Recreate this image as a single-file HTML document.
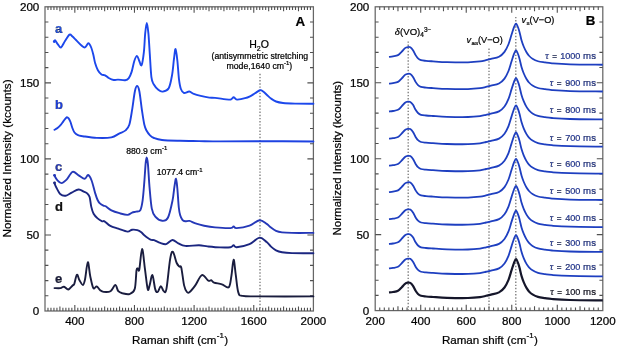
<!DOCTYPE html><html><head><meta charset="utf-8"><style>html,body{margin:0;padding:0;background:#fff;width:617px;height:348px;overflow:hidden}svg{display:block;will-change:transform}text{stroke:#000;stroke-width:0.22px}</style></head><body><svg width="617" height="348" viewBox="0 0 617 348"><rect width="617" height="348" fill="#fff"/>
<rect x="45.00" y="6.80" width="268.40" height="304.20" fill="none" stroke="#666666" stroke-width="1.25"/>
<path d="M45.00,295.79h3.40 M313.40,295.79h-3.40 M45.00,280.58h3.40 M313.40,280.58h-3.40 M45.00,265.37h3.40 M313.40,265.37h-3.40 M45.00,250.16h3.40 M313.40,250.16h-3.40 M45.00,234.95h6.00 M313.40,234.95h-6.00 M45.00,219.74h3.40 M313.40,219.74h-3.40 M45.00,204.53h3.40 M313.40,204.53h-3.40 M45.00,189.32h3.40 M313.40,189.32h-3.40 M45.00,174.11h3.40 M313.40,174.11h-3.40 M45.00,158.90h6.00 M313.40,158.90h-6.00 M45.00,143.69h3.40 M313.40,143.69h-3.40 M45.00,128.48h3.40 M313.40,128.48h-3.40 M45.00,113.27h3.40 M313.40,113.27h-3.40 M45.00,98.06h3.40 M313.40,98.06h-3.40 M45.00,82.85h6.00 M313.40,82.85h-6.00 M45.00,67.64h3.40 M313.40,67.64h-3.40 M45.00,52.43h3.40 M313.40,52.43h-3.40 M45.00,37.22h3.40 M313.40,37.22h-3.40 M45.00,22.01h3.40 M313.40,22.01h-3.40 M47.98,311.00v-3.20 M47.98,6.80v3.20 M50.96,311.00v-3.20 M50.96,6.80v3.20 M53.95,311.00v-3.20 M53.95,6.80v3.20 M56.93,311.00v-3.20 M56.93,6.80v3.20 M59.91,311.00v-4.40 M59.91,6.80v4.40 M62.89,311.00v-3.20 M62.89,6.80v3.20 M65.88,311.00v-3.20 M65.88,6.80v3.20 M68.86,311.00v-3.20 M68.86,6.80v3.20 M71.84,311.00v-3.20 M71.84,6.80v3.20 M74.82,311.00v-5.90 M74.82,6.80v5.90 M77.80,311.00v-3.20 M77.80,6.80v3.20 M80.79,311.00v-3.20 M80.79,6.80v3.20 M83.77,311.00v-3.20 M83.77,6.80v3.20 M86.75,311.00v-3.20 M86.75,6.80v3.20 M89.73,311.00v-4.40 M89.73,6.80v4.40 M92.72,311.00v-3.20 M92.72,6.80v3.20 M95.70,311.00v-3.20 M95.70,6.80v3.20 M98.68,311.00v-3.20 M98.68,6.80v3.20 M101.66,311.00v-3.20 M101.66,6.80v3.20 M104.64,311.00v-4.40 M104.64,6.80v4.40 M107.63,311.00v-3.20 M107.63,6.80v3.20 M110.61,311.00v-3.20 M110.61,6.80v3.20 M113.59,311.00v-3.20 M113.59,6.80v3.20 M116.57,311.00v-3.20 M116.57,6.80v3.20 M119.56,311.00v-4.40 M119.56,6.80v4.40 M122.54,311.00v-3.20 M122.54,6.80v3.20 M125.52,311.00v-3.20 M125.52,6.80v3.20 M128.50,311.00v-3.20 M128.50,6.80v3.20 M131.48,311.00v-3.20 M131.48,6.80v3.20 M134.47,311.00v-5.90 M134.47,6.80v5.90 M137.45,311.00v-3.20 M137.45,6.80v3.20 M140.43,311.00v-3.20 M140.43,6.80v3.20 M143.41,311.00v-3.20 M143.41,6.80v3.20 M146.40,311.00v-3.20 M146.40,6.80v3.20 M149.38,311.00v-4.40 M149.38,6.80v4.40 M152.36,311.00v-3.20 M152.36,6.80v3.20 M155.34,311.00v-3.20 M155.34,6.80v3.20 M158.32,311.00v-3.20 M158.32,6.80v3.20 M161.31,311.00v-3.20 M161.31,6.80v3.20 M164.29,311.00v-4.40 M164.29,6.80v4.40 M167.27,311.00v-3.20 M167.27,6.80v3.20 M170.25,311.00v-3.20 M170.25,6.80v3.20 M173.24,311.00v-3.20 M173.24,6.80v3.20 M176.22,311.00v-3.20 M176.22,6.80v3.20 M179.20,311.00v-4.40 M179.20,6.80v4.40 M182.18,311.00v-3.20 M182.18,6.80v3.20 M185.16,311.00v-3.20 M185.16,6.80v3.20 M188.15,311.00v-3.20 M188.15,6.80v3.20 M191.13,311.00v-3.20 M191.13,6.80v3.20 M194.11,311.00v-5.90 M194.11,6.80v5.90 M197.09,311.00v-3.20 M197.09,6.80v3.20 M200.08,311.00v-3.20 M200.08,6.80v3.20 M203.06,311.00v-3.20 M203.06,6.80v3.20 M206.04,311.00v-3.20 M206.04,6.80v3.20 M209.02,311.00v-4.40 M209.02,6.80v4.40 M212.00,311.00v-3.20 M212.00,6.80v3.20 M214.99,311.00v-3.20 M214.99,6.80v3.20 M217.97,311.00v-3.20 M217.97,6.80v3.20 M220.95,311.00v-3.20 M220.95,6.80v3.20 M223.93,311.00v-4.40 M223.93,6.80v4.40 M226.92,311.00v-3.20 M226.92,6.80v3.20 M229.90,311.00v-3.20 M229.90,6.80v3.20 M232.88,311.00v-3.20 M232.88,6.80v3.20 M235.86,311.00v-3.20 M235.86,6.80v3.20 M238.84,311.00v-4.40 M238.84,6.80v4.40 M241.83,311.00v-3.20 M241.83,6.80v3.20 M244.81,311.00v-3.20 M244.81,6.80v3.20 M247.79,311.00v-3.20 M247.79,6.80v3.20 M250.77,311.00v-3.20 M250.77,6.80v3.20 M253.76,311.00v-5.90 M253.76,6.80v5.90 M256.74,311.00v-3.20 M256.74,6.80v3.20 M259.72,311.00v-3.20 M259.72,6.80v3.20 M262.70,311.00v-3.20 M262.70,6.80v3.20 M265.68,311.00v-3.20 M265.68,6.80v3.20 M268.67,311.00v-4.40 M268.67,6.80v4.40 M271.65,311.00v-3.20 M271.65,6.80v3.20 M274.63,311.00v-3.20 M274.63,6.80v3.20 M277.61,311.00v-3.20 M277.61,6.80v3.20 M280.60,311.00v-3.20 M280.60,6.80v3.20 M283.58,311.00v-4.40 M283.58,6.80v4.40 M286.56,311.00v-3.20 M286.56,6.80v3.20 M289.54,311.00v-3.20 M289.54,6.80v3.20 M292.52,311.00v-3.20 M292.52,6.80v3.20 M295.51,311.00v-3.20 M295.51,6.80v3.20 M298.49,311.00v-4.40 M298.49,6.80v4.40 M301.47,311.00v-3.20 M301.47,6.80v3.20 M304.45,311.00v-3.20 M304.45,6.80v3.20 M307.44,311.00v-3.20 M307.44,6.80v3.20 M310.42,311.00v-3.20 M310.42,6.80v3.20 " stroke="#505050" stroke-width="1.1" fill="none"/>
<rect x="375.20" y="6.80" width="227.60" height="303.80" fill="none" stroke="#666666" stroke-width="1.25"/>
<path d="M375.20,295.41h3.40 M602.80,295.41h-3.40 M375.20,280.22h3.40 M602.80,280.22h-3.40 M375.20,265.03h3.40 M602.80,265.03h-3.40 M375.20,249.84h3.40 M602.80,249.84h-3.40 M375.20,234.65h6.00 M602.80,234.65h-6.00 M375.20,219.46h3.40 M602.80,219.46h-3.40 M375.20,204.27h3.40 M602.80,204.27h-3.40 M375.20,189.08h3.40 M602.80,189.08h-3.40 M375.20,173.89h3.40 M602.80,173.89h-3.40 M375.20,158.70h6.00 M602.80,158.70h-6.00 M375.20,143.51h3.40 M602.80,143.51h-3.40 M375.20,128.32h3.40 M602.80,128.32h-3.40 M375.20,113.13h3.40 M602.80,113.13h-3.40 M375.20,97.94h3.40 M602.80,97.94h-3.40 M375.20,82.75h6.00 M602.80,82.75h-6.00 M375.20,67.56h3.40 M602.80,67.56h-3.40 M375.20,52.37h3.40 M602.80,52.37h-3.40 M375.20,37.18h3.40 M602.80,37.18h-3.40 M375.20,21.99h3.40 M602.80,21.99h-3.40 M379.75,310.60v-3.20 M379.75,6.80v3.20 M384.30,310.60v-3.20 M384.30,6.80v3.20 M388.86,310.60v-3.20 M388.86,6.80v3.20 M393.41,310.60v-3.20 M393.41,6.80v3.20 M397.96,310.60v-4.40 M397.96,6.80v4.40 M402.51,310.60v-3.20 M402.51,6.80v3.20 M407.06,310.60v-3.20 M407.06,6.80v3.20 M411.62,310.60v-3.20 M411.62,6.80v3.20 M416.17,310.60v-3.20 M416.17,6.80v3.20 M420.72,310.60v-5.90 M420.72,6.80v5.90 M425.27,310.60v-3.20 M425.27,6.80v3.20 M429.82,310.60v-3.20 M429.82,6.80v3.20 M434.38,310.60v-3.20 M434.38,6.80v3.20 M438.93,310.60v-3.20 M438.93,6.80v3.20 M443.48,310.60v-4.40 M443.48,6.80v4.40 M448.03,310.60v-3.20 M448.03,6.80v3.20 M452.58,310.60v-3.20 M452.58,6.80v3.20 M457.14,310.60v-3.20 M457.14,6.80v3.20 M461.69,310.60v-3.20 M461.69,6.80v3.20 M466.24,310.60v-5.90 M466.24,6.80v5.90 M470.79,310.60v-3.20 M470.79,6.80v3.20 M475.34,310.60v-3.20 M475.34,6.80v3.20 M479.90,310.60v-3.20 M479.90,6.80v3.20 M484.45,310.60v-3.20 M484.45,6.80v3.20 M489.00,310.60v-4.40 M489.00,6.80v4.40 M493.55,310.60v-3.20 M493.55,6.80v3.20 M498.10,310.60v-3.20 M498.10,6.80v3.20 M502.66,310.60v-3.20 M502.66,6.80v3.20 M507.21,310.60v-3.20 M507.21,6.80v3.20 M511.76,310.60v-5.90 M511.76,6.80v5.90 M516.31,310.60v-3.20 M516.31,6.80v3.20 M520.86,310.60v-3.20 M520.86,6.80v3.20 M525.42,310.60v-3.20 M525.42,6.80v3.20 M529.97,310.60v-3.20 M529.97,6.80v3.20 M534.52,310.60v-4.40 M534.52,6.80v4.40 M539.07,310.60v-3.20 M539.07,6.80v3.20 M543.62,310.60v-3.20 M543.62,6.80v3.20 M548.18,310.60v-3.20 M548.18,6.80v3.20 M552.73,310.60v-3.20 M552.73,6.80v3.20 M557.28,310.60v-5.90 M557.28,6.80v5.90 M561.83,310.60v-3.20 M561.83,6.80v3.20 M566.38,310.60v-3.20 M566.38,6.80v3.20 M570.94,310.60v-3.20 M570.94,6.80v3.20 M575.49,310.60v-3.20 M575.49,6.80v3.20 M580.04,310.60v-4.40 M580.04,6.80v4.40 M584.59,310.60v-3.20 M584.59,6.80v3.20 M589.14,310.60v-3.20 M589.14,6.80v3.20 M593.70,310.60v-3.20 M593.70,6.80v3.20 M598.25,310.60v-3.20 M598.25,6.80v3.20 " stroke="#505050" stroke-width="1.1" fill="none"/>
<text x="39.3" y="315.40" font-size="11.6" text-anchor="end" font-family="Liberation Sans, sans-serif">0</text>
<text x="369.3" y="315.00" font-size="11.6" text-anchor="end" font-family="Liberation Sans, sans-serif">0</text>
<text x="39.3" y="239.35" font-size="11.6" text-anchor="end" font-family="Liberation Sans, sans-serif">50</text>
<text x="369.3" y="239.05" font-size="11.6" text-anchor="end" font-family="Liberation Sans, sans-serif">50</text>
<text x="39.3" y="163.30" font-size="11.6" text-anchor="end" font-family="Liberation Sans, sans-serif">100</text>
<text x="369.3" y="163.10" font-size="11.6" text-anchor="end" font-family="Liberation Sans, sans-serif">100</text>
<text x="39.3" y="87.25" font-size="11.6" text-anchor="end" font-family="Liberation Sans, sans-serif">150</text>
<text x="369.3" y="87.15" font-size="11.6" text-anchor="end" font-family="Liberation Sans, sans-serif">150</text>
<text x="39.3" y="11.20" font-size="11.6" text-anchor="end" font-family="Liberation Sans, sans-serif">200</text>
<text x="369.3" y="11.20" font-size="11.6" text-anchor="end" font-family="Liberation Sans, sans-serif">200</text>
<text x="74.82" y="324.6" font-size="11.6" text-anchor="middle" font-family="Liberation Sans, sans-serif">400</text>
<text x="134.47" y="324.6" font-size="11.6" text-anchor="middle" font-family="Liberation Sans, sans-serif">800</text>
<text x="194.11" y="324.6" font-size="11.6" text-anchor="middle" font-family="Liberation Sans, sans-serif">1200</text>
<text x="253.76" y="324.6" font-size="11.6" text-anchor="middle" font-family="Liberation Sans, sans-serif">1600</text>
<text x="313.40" y="324.6" font-size="11.6" text-anchor="middle" font-family="Liberation Sans, sans-serif">2000</text>
<text x="375.20" y="324.6" font-size="11.6" text-anchor="middle" font-family="Liberation Sans, sans-serif">200</text>
<text x="420.72" y="324.6" font-size="11.6" text-anchor="middle" font-family="Liberation Sans, sans-serif">400</text>
<text x="466.24" y="324.6" font-size="11.6" text-anchor="middle" font-family="Liberation Sans, sans-serif">600</text>
<text x="511.76" y="324.6" font-size="11.6" text-anchor="middle" font-family="Liberation Sans, sans-serif">800</text>
<text x="557.28" y="324.6" font-size="11.6" text-anchor="middle" font-family="Liberation Sans, sans-serif">1000</text>
<text x="602.80" y="324.6" font-size="11.6" text-anchor="middle" font-family="Liberation Sans, sans-serif">1200</text>
<text x="180.10" y="344.2" font-size="11.6" text-anchor="middle" font-family="Liberation Sans, sans-serif">Raman shift (cm<tspan font-size="8" dy="-6.5" dx="0.3">-1</tspan><tspan dy="6.5" dx="0.3">)</tspan></text>
<text x="489.90" y="344.2" font-size="11.6" text-anchor="middle" font-family="Liberation Sans, sans-serif">Raman shift (cm<tspan font-size="8" dy="-6.5" dx="0.3">-1</tspan><tspan dy="6.5" dx="0.3">)</tspan></text>
<text transform="translate(10.90,158.45) rotate(-90)" x="0" y="0" font-size="11.75" text-anchor="middle" font-family="Liberation Sans, sans-serif">Normalized Intensity (kcounts)</text>
<text transform="translate(340.80,158.15) rotate(-90)" x="0" y="0" font-size="11.50" text-anchor="middle" font-family="Liberation Sans, sans-serif">Normalized Intensity (kcounts)</text>
<text x="295.6" y="25.6" font-size="13.3" font-weight="bold" font-family="Liberation Sans, sans-serif">A</text>
<text x="585.8" y="25.4" font-size="13.3" font-weight="bold" font-family="Liberation Sans, sans-serif">B</text>
<path d="M260,73.8V310" stroke="#777" stroke-width="1.3" stroke-dasharray="1.4 1.75" fill="none"/>
<path d="M408.2,41.4V310 M489,48.6V310 M515.8,16.9V310" stroke="#777" stroke-width="1.3" stroke-dasharray="1.4 1.75" fill="none"/>
<path d="M54.00,41.60 C54.20,41.40 54.62,40.03 55.20,40.40 C55.78,40.77 56.55,42.62 57.50,43.80 C58.45,44.98 59.65,47.97 60.90,47.50 C62.15,47.03 63.57,43.15 65.00,41.00 C66.43,38.85 68.25,35.35 69.50,34.60 C70.75,33.85 71.42,35.60 72.50,36.50 C73.58,37.40 74.55,38.55 76.00,40.00 C77.45,41.45 79.70,43.97 81.20,45.20 C82.70,46.43 83.80,47.72 85.00,47.40 C86.20,47.08 87.37,43.28 88.40,43.30 C89.43,43.32 90.35,45.47 91.20,47.50 C92.05,49.53 92.85,52.92 93.50,55.50 C94.15,58.08 94.37,60.55 95.10,63.00 C95.83,65.45 96.83,68.28 97.90,70.20 C98.97,72.12 100.30,73.65 101.50,74.50 C102.70,75.35 103.90,74.72 105.10,75.30 C106.30,75.88 107.27,77.22 108.70,78.00 C110.13,78.78 112.15,79.73 113.70,80.00 C115.25,80.27 116.08,79.57 118.00,79.60 C119.92,79.63 123.40,80.45 125.20,80.20 C127.00,79.95 127.72,79.53 128.80,78.10 C129.88,76.67 130.78,74.45 131.70,71.60 C132.62,68.75 133.42,63.62 134.30,61.00 C135.18,58.38 136.17,55.90 137.00,55.90 C137.83,55.90 138.53,59.47 139.30,61.00 C140.07,62.53 140.83,66.63 141.60,65.10 C142.37,63.57 143.30,57.08 143.90,51.80 C144.50,46.52 144.72,38.20 145.20,33.40 C145.68,28.60 146.27,23.00 146.80,23.00 C147.33,23.00 147.90,28.22 148.40,33.40 C148.90,38.58 149.30,46.82 149.80,54.10 C150.30,61.38 150.75,72.07 151.40,77.10 C152.05,82.13 152.55,82.18 153.70,84.30 C154.85,86.42 156.82,88.58 158.30,89.80 C159.78,91.02 160.87,91.87 162.60,91.60 C164.33,91.33 167.12,91.00 168.70,88.20 C170.28,85.40 171.22,79.72 172.10,74.80 C172.98,69.88 173.42,63.00 174.00,58.70 C174.58,54.40 175.03,48.62 175.60,49.00 C176.17,49.38 176.83,55.93 177.40,61.00 C177.97,66.07 178.42,74.73 179.00,79.40 C179.58,84.07 180.07,86.73 180.90,89.00 C181.73,91.27 182.60,92.58 184.00,93.00 C185.40,93.42 187.67,91.35 189.30,91.50 C190.93,91.65 191.90,93.17 193.80,93.90 C195.70,94.63 198.12,95.28 200.70,95.90 C203.28,96.52 206.92,97.27 209.30,97.60 C211.68,97.93 211.75,97.57 215.00,97.90 C218.25,98.23 226.05,99.42 228.80,99.60 C231.55,99.78 230.70,99.38 231.50,99.00 C232.30,98.62 232.92,97.32 233.60,97.30 C234.28,97.28 234.97,98.52 235.60,98.90 C236.23,99.28 235.83,99.72 237.40,99.60 C238.97,99.48 242.90,98.75 245.00,98.20 C247.10,97.65 248.33,97.12 250.00,96.30 C251.67,95.48 253.30,94.32 255.00,93.30 C256.70,92.28 258.78,90.45 260.20,90.20 C261.62,89.95 262.37,91.00 263.50,91.80 C264.63,92.60 265.75,93.87 267.00,95.00 C268.25,96.13 269.50,97.52 271.00,98.60 C272.50,99.68 274.00,100.77 276.00,101.50 C278.00,102.23 279.83,102.65 283.00,103.00 C286.17,103.35 289.93,103.48 295.00,103.60 C300.07,103.72 310.33,103.68 313.40,103.70" stroke="#1c48ec" stroke-width="1.9" fill="none" stroke-linejoin="round" stroke-linecap="round"/>
<circle cx="54.30" cy="41.60" r="1.35" fill="#1c48ec"/>
<path d="M54.50,129.80 C55.00,129.50 56.50,128.77 57.50,128.00 C58.50,127.23 59.50,126.33 60.50,125.20 C61.50,124.07 62.48,122.52 63.50,121.20 C64.52,119.88 65.72,117.73 66.60,117.30 C67.48,116.87 68.15,117.82 68.80,118.60 C69.45,119.38 69.93,120.52 70.50,122.00 C71.07,123.48 71.53,125.75 72.20,127.50 C72.87,129.25 73.53,131.22 74.50,132.50 C75.47,133.78 76.60,134.58 78.00,135.20 C79.40,135.82 79.78,135.75 82.90,136.20 C86.02,136.65 91.95,137.70 96.70,137.90 C101.45,138.10 107.67,138.12 111.40,137.40 C115.13,136.68 116.73,134.77 119.10,133.60 C121.47,132.43 123.90,131.87 125.60,130.40 C127.30,128.93 128.22,128.22 129.30,124.80 C130.38,121.38 131.17,115.50 132.10,109.90 C133.03,104.30 134.05,95.18 134.90,91.20 C135.75,87.22 136.45,85.95 137.20,86.00 C137.95,86.05 138.62,87.50 139.40,91.50 C140.18,95.50 141.08,104.50 141.90,110.00 C142.72,115.50 143.53,121.08 144.30,124.50 C145.07,127.92 145.55,128.70 146.50,130.50 C147.45,132.30 148.75,134.05 150.00,135.30 C151.25,136.55 152.00,137.22 154.00,138.00 C156.00,138.78 157.67,139.53 162.00,140.00 C166.33,140.47 173.83,140.62 180.00,140.80 C186.17,140.98 192.33,141.00 199.00,141.10 C205.67,141.20 209.83,141.38 220.00,141.40 C230.17,141.42 244.43,141.18 260.00,141.20 C275.57,141.22 304.50,141.45 313.40,141.50" stroke="#1d42e2" stroke-width="1.9" fill="none" stroke-linejoin="round" stroke-linecap="round"/>
<path d="M54.30,175.30 C54.77,176.07 55.92,178.60 57.10,179.90 C58.28,181.20 59.82,183.13 61.40,183.10 C62.98,183.07 64.73,181.57 66.60,179.70 C68.47,177.83 70.60,172.63 72.60,171.90 C74.60,171.17 76.58,174.15 78.60,175.30 C80.62,176.45 83.12,178.85 84.70,178.80 C86.28,178.75 86.95,174.72 88.10,175.00 C89.25,175.28 90.45,177.57 91.60,180.50 C92.75,183.43 94.00,189.35 95.00,192.60 C96.00,195.85 96.78,198.20 97.60,200.00 C98.42,201.80 98.93,202.45 99.90,203.40 C100.87,204.35 102.43,205.22 103.40,205.70 C104.37,206.18 104.37,205.53 105.70,206.30 C107.03,207.07 109.10,209.15 111.40,210.30 C113.70,211.45 116.82,212.43 119.50,213.20 C122.18,213.97 125.40,215.00 127.50,214.90 C129.60,214.80 130.68,213.13 132.10,212.60 C133.52,212.07 134.63,212.10 136.00,211.70 C137.37,211.30 139.20,212.05 140.30,210.20 C141.40,208.35 141.93,205.27 142.60,200.60 C143.27,195.93 143.80,188.33 144.30,182.20 C144.80,176.07 145.22,167.93 145.60,163.80 C145.98,159.67 146.22,157.40 146.60,157.40 C146.98,157.40 147.42,158.90 147.90,163.80 C148.38,168.70 148.85,179.33 149.50,186.80 C150.15,194.27 150.83,203.62 151.80,208.60 C152.77,213.58 153.57,214.67 155.30,216.70 C157.03,218.73 160.10,220.62 162.20,220.80 C164.30,220.98 166.18,221.17 167.90,217.80 C169.62,214.43 171.42,205.77 172.50,200.60 C173.58,195.43 173.82,190.45 174.40,186.80 C174.98,183.15 175.52,178.50 176.00,178.70 C176.48,178.90 176.83,183.20 177.30,188.00 C177.77,192.80 178.32,202.95 178.80,207.50 C179.28,212.05 179.60,213.25 180.20,215.30 C180.80,217.35 181.57,218.80 182.40,219.80 C183.23,220.80 184.02,221.12 185.20,221.30 C186.38,221.48 187.78,220.55 189.50,220.90 C191.22,221.25 193.07,222.60 195.50,223.40 C197.93,224.20 200.85,225.03 204.10,225.70 C207.35,226.37 210.60,227.00 215.00,227.40 C219.40,227.80 227.40,228.27 230.50,228.10 C233.60,227.93 232.58,226.40 233.60,226.40 C234.62,226.40 233.95,228.23 236.60,228.10 C239.25,227.97 245.68,226.92 249.50,225.60 C253.32,224.28 256.63,220.48 259.50,220.20 C262.37,219.92 264.78,222.67 266.70,223.90 C268.62,225.13 269.45,226.43 271.00,227.60 C272.55,228.77 274.17,230.10 276.00,230.90 C277.83,231.70 279.33,232.07 282.00,232.40 C284.67,232.73 286.77,232.82 292.00,232.90 C297.23,232.98 309.83,232.90 313.40,232.90" stroke="#2538b8" stroke-width="1.9" fill="none" stroke-linejoin="round" stroke-linecap="round"/>
<circle cx="54.60" cy="175.30" r="1.35" fill="#2538b8"/>
<path d="M54.30,182.80 C54.62,183.53 55.17,185.28 56.20,187.20 C57.23,189.12 58.92,192.88 60.50,194.30 C62.08,195.72 63.83,195.98 65.70,195.70 C67.57,195.42 69.55,193.63 71.70,192.60 C73.85,191.57 76.58,189.65 78.60,189.50 C80.62,189.35 82.37,191.05 83.80,191.70 C85.23,192.35 86.23,192.52 87.20,193.40 C88.17,194.28 88.92,194.75 89.60,197.00 C90.28,199.25 90.63,204.10 91.30,206.90 C91.97,209.70 92.55,211.88 93.60,213.80 C94.65,215.72 96.17,217.15 97.60,218.40 C99.03,219.65 101.05,220.82 102.20,221.30 C103.35,221.78 103.15,220.53 104.50,221.30 C105.85,222.07 108.00,224.67 110.30,225.90 C112.60,227.13 115.43,227.75 118.30,228.70 C121.17,229.65 125.20,231.43 127.50,231.60 C129.80,231.77 130.47,229.95 132.10,229.70 C133.73,229.45 135.77,229.68 137.30,230.10 C138.83,230.52 140.18,231.38 141.30,232.20 C142.42,233.02 142.47,233.75 144.00,235.00 C145.53,236.25 148.82,238.83 150.50,239.70 C152.18,240.57 152.48,239.67 154.10,240.20 C155.72,240.73 158.18,242.25 160.20,242.90 C162.22,243.55 164.17,244.58 166.20,244.10 C168.23,243.62 170.38,240.13 172.40,240.00 C174.42,239.87 176.17,242.32 178.30,243.30 C180.43,244.28 181.75,245.57 185.20,245.90 C188.65,246.23 195.27,245.22 199.00,245.30 C202.73,245.38 204.10,246.05 207.60,246.40 C211.10,246.75 216.18,247.27 220.00,247.40 C223.82,247.53 228.23,247.55 230.50,247.20 C232.77,246.85 232.58,245.30 233.60,245.30 C234.62,245.30 233.95,247.40 236.60,247.20 C239.25,247.00 245.68,245.70 249.50,244.10 C253.32,242.50 256.63,237.93 259.50,237.60 C262.37,237.27 264.78,240.60 266.70,242.10 C268.62,243.60 269.45,245.23 271.00,246.60 C272.55,247.97 274.17,249.37 276.00,250.30 C277.83,251.23 279.33,251.73 282.00,252.20 C284.67,252.67 286.77,252.92 292.00,253.10 C297.23,253.28 309.83,253.27 313.40,253.30" stroke="#1b2680" stroke-width="1.9" fill="none" stroke-linejoin="round" stroke-linecap="round"/>
<circle cx="54.60" cy="182.80" r="1.35" fill="#1b2680"/>
<path d="M54.50,288.10 C55.50,288.10 58.92,288.33 60.50,288.10 C62.08,287.87 62.70,286.47 64.00,286.70 C65.30,286.93 66.87,289.70 68.30,289.50 C69.73,289.30 71.60,286.45 72.60,285.50 C73.60,284.55 73.58,285.60 74.30,283.80 C75.02,282.00 76.03,275.28 76.90,274.70 C77.77,274.12 78.50,278.58 79.50,280.30 C80.50,282.02 81.98,285.13 82.90,285.00 C83.82,284.87 84.18,283.30 85.00,279.50 C85.82,275.70 86.93,262.78 87.80,262.20 C88.67,261.62 89.28,271.68 90.20,276.00 C91.12,280.32 92.22,286.37 93.30,288.10 C94.38,289.83 95.55,286.05 96.70,286.40 C97.85,286.75 99.05,289.28 100.20,290.20 C101.35,291.12 101.88,291.73 103.60,291.90 C105.32,292.07 108.55,292.35 110.50,291.20 C112.45,290.05 114.00,285.00 115.30,285.00 C116.60,285.00 117.08,289.82 118.30,291.20 C119.52,292.58 120.73,292.82 122.60,293.30 C124.47,293.78 127.48,294.80 129.50,294.10 C131.52,293.40 133.53,293.03 134.70,289.10 C135.87,285.17 135.98,273.92 136.50,270.50 C137.02,267.08 137.33,268.77 137.80,268.60 C138.27,268.43 138.58,272.77 139.30,269.50 C140.02,266.23 141.17,249.15 142.10,249.00 C143.03,248.85 143.97,261.92 144.90,268.60 C145.83,275.28 146.92,286.30 147.70,289.10 C148.48,291.90 148.82,287.73 149.60,285.40 C150.38,283.07 151.47,274.48 152.40,275.10 C153.33,275.72 154.33,286.28 155.20,289.10 C156.07,291.92 156.67,292.47 157.60,292.00 C158.53,291.53 159.80,286.47 160.80,286.30 C161.80,286.13 162.67,290.53 163.60,291.00 C164.53,291.47 165.32,294.38 166.40,289.10 C167.48,283.82 169.02,265.52 170.10,259.30 C171.18,253.08 171.80,251.18 172.90,251.80 C174.00,252.42 175.60,260.52 176.70,263.00 C177.80,265.48 178.73,265.92 179.50,266.70 C180.27,267.48 180.53,264.58 181.30,267.70 C182.07,270.82 183.17,281.35 184.10,285.40 C185.03,289.45 185.97,290.90 186.90,292.00 C187.83,293.10 188.30,293.10 189.70,292.00 C191.10,290.90 193.27,288.22 195.30,285.40 C197.33,282.58 199.72,275.88 201.90,275.10 C204.08,274.32 206.85,279.85 208.40,280.70 C209.95,281.55 210.27,279.88 211.20,280.20 C212.13,280.52 212.22,281.92 214.00,282.60 C215.78,283.28 219.43,283.53 221.90,284.30 C224.37,285.07 227.22,288.58 228.80,287.20 C230.38,285.82 230.60,280.58 231.40,276.00 C232.20,271.42 232.88,259.98 233.60,259.70 C234.32,259.42 234.92,268.85 235.70,274.30 C236.48,279.75 237.15,288.80 238.30,292.40 C239.45,296.00 239.30,295.23 242.60,295.90 C245.90,296.57 246.30,296.32 258.10,296.40 C269.90,296.48 304.18,296.40 313.40,296.40" stroke="#1a1d3e" stroke-width="1.9" fill="none" stroke-linejoin="round" stroke-linecap="round"/>
<text x="55" y="32.5" font-size="13" font-weight="bold" fill="#2150e0" stroke="#2150e0" font-family="Liberation Sans, sans-serif">a</text>
<text x="55" y="108.8" font-size="13" font-weight="bold" fill="#1d40e4" stroke="#1d40e4" font-family="Liberation Sans, sans-serif">b</text>
<text x="55" y="170.7" font-size="13" font-weight="bold" fill="#2538b8" stroke="#2538b8" font-family="Liberation Sans, sans-serif">c</text>
<text x="55" y="210.7" font-size="13" font-weight="bold" fill="#111" stroke="#111" font-family="Liberation Sans, sans-serif">d</text>
<text x="55" y="282.9" font-size="13" font-weight="bold" fill="#1a1d3e" stroke="#1a1d3e" font-family="Liberation Sans, sans-serif">e</text>
<text x="259" y="48.3" font-size="10.5" text-anchor="middle" font-family="Liberation Sans, sans-serif">H<tspan font-size="7" dy="2.5">2</tspan><tspan dy="-2.5">O</tspan></text>
<text x="259.8" y="59" font-size="8.7" text-anchor="middle" font-family="Liberation Sans, sans-serif">(antisymmetric stretching</text>
<text x="259.4" y="68.5" font-size="8.7" text-anchor="middle" font-family="Liberation Sans, sans-serif">mode,1640 cm<tspan font-size="6" dy="-3.5">-1</tspan><tspan dy="3.5">)</tspan></text>
<text x="146.7" y="153.8" font-size="8.7" text-anchor="middle" font-family="Liberation Sans, sans-serif">880.9 cm<tspan font-size="6" dy="-3.5">-1</tspan></text>
<text x="179.6" y="175.4" font-size="8.7" text-anchor="middle" font-family="Liberation Sans, sans-serif">1077.4 cm<tspan font-size="6" dy="-3.5">-1</tspan></text>
<path d="M389.00,56.85 C389.67,56.77 391.50,56.63 393.00,56.35 C394.50,56.07 396.53,55.95 398.00,55.15 C399.47,54.35 400.63,52.72 401.80,51.55 C402.97,50.38 404.00,48.90 405.00,48.15 C406.00,47.40 406.92,47.20 407.80,47.05 C408.68,46.90 409.43,46.73 410.30,47.25 C411.17,47.77 412.12,48.83 413.00,50.15 C413.88,51.47 414.77,53.78 415.60,55.15 C416.43,56.52 417.10,57.52 418.00,58.35 C418.90,59.18 419.67,59.73 421.00,60.15 C422.33,60.57 424.00,60.65 426.00,60.85 C428.00,61.05 429.50,61.13 433.00,61.35 C436.50,61.57 441.17,61.98 447.00,62.15 C452.83,62.32 462.50,62.47 468.00,62.35 C473.50,62.23 477.00,61.82 480.00,61.45 C483.00,61.08 484.17,60.57 486.00,60.15 C487.83,59.73 488.83,59.52 491.00,58.95 C493.17,58.38 496.75,57.93 499.00,56.75 C501.25,55.57 502.92,53.93 504.50,51.85 C506.08,49.77 507.33,47.10 508.50,44.25 C509.67,41.40 510.58,37.60 511.50,34.75 C512.42,31.90 513.25,29.02 514.00,27.15 C514.75,25.28 515.30,23.45 516.00,23.55 C516.70,23.65 517.58,26.22 518.20,27.75 C518.82,29.28 519.15,30.67 519.70,32.75 C520.25,34.83 520.82,37.92 521.50,40.25 C522.18,42.58 522.97,44.75 523.80,46.75 C524.63,48.75 525.63,50.75 526.50,52.25 C527.37,53.75 528.00,54.67 529.00,55.75 C530.00,56.83 531.00,57.83 532.50,58.75 C534.00,59.67 535.92,60.63 538.00,61.25 C540.08,61.87 542.67,62.10 545.00,62.45 C547.33,62.80 547.83,63.03 552.00,63.35 C556.17,63.67 561.53,64.12 570.00,64.35 C578.47,64.58 597.33,64.68 602.80,64.75" stroke="#1e3fc0" stroke-width="1.8" fill="none" stroke-linejoin="round"/>
<text x="596.4" y="58.60" font-size="9.6" letter-spacing="0.35" text-anchor="end" fill="#3450d2" stroke="#3450d2" font-family="Liberation Sans, sans-serif">ms</text>
<text transform="translate(580.40,58.60) scale(0.95,1.03)" font-size="9.6" text-anchor="end" fill="#3450d2" stroke="#3450d2" font-family="Liberation Sans, sans-serif">1000</text>
<text transform="translate(557.07,58.60) scale(0.85,1)" font-size="9.6" text-anchor="end" fill="#3450d2" stroke="#3450d2" font-family="Liberation Sans, sans-serif">=</text>
<text x="548.72" y="58.60" font-size="9.8" font-style="italic" text-anchor="end" fill="#3450d2" stroke="#3450d2" font-family="Liberation Serif, serif">τ</text>
<path d="M389.00,83.60 C389.67,83.52 391.50,83.38 393.00,83.10 C394.50,82.82 396.53,82.70 398.00,81.90 C399.47,81.10 400.63,79.47 401.80,78.30 C402.97,77.13 404.00,75.65 405.00,74.90 C406.00,74.15 406.92,73.95 407.80,73.80 C408.68,73.65 409.43,73.48 410.30,74.00 C411.17,74.52 412.12,75.58 413.00,76.90 C413.88,78.22 414.77,80.53 415.60,81.90 C416.43,83.27 417.10,84.27 418.00,85.10 C418.90,85.93 419.67,86.48 421.00,86.90 C422.33,87.32 424.00,87.40 426.00,87.60 C428.00,87.80 429.50,87.88 433.00,88.10 C436.50,88.32 441.17,88.73 447.00,88.90 C452.83,89.07 462.50,89.22 468.00,89.10 C473.50,88.98 477.00,88.57 480.00,88.20 C483.00,87.83 484.17,87.32 486.00,86.90 C487.83,86.48 488.83,86.27 491.00,85.70 C493.17,85.13 496.75,84.68 499.00,83.50 C501.25,82.32 502.92,80.68 504.50,78.60 C506.08,76.52 507.33,73.85 508.50,71.00 C509.67,68.15 510.58,64.35 511.50,61.50 C512.42,58.65 513.25,55.77 514.00,53.90 C514.75,52.03 515.30,50.20 516.00,50.30 C516.70,50.40 517.58,52.97 518.20,54.50 C518.82,56.03 519.15,57.42 519.70,59.50 C520.25,61.58 520.82,64.67 521.50,67.00 C522.18,69.33 522.97,71.50 523.80,73.50 C524.63,75.50 525.63,77.50 526.50,79.00 C527.37,80.50 528.00,81.42 529.00,82.50 C530.00,83.58 531.00,84.58 532.50,85.50 C534.00,86.42 535.92,87.38 538.00,88.00 C540.08,88.62 542.67,88.85 545.00,89.20 C547.33,89.55 547.83,89.78 552.00,90.10 C556.17,90.42 561.53,90.87 570.00,91.10 C578.47,91.33 597.33,91.43 602.80,91.50" stroke="#1e3fc0" stroke-width="1.8" fill="none" stroke-linejoin="round"/>
<text x="596.4" y="85.90" font-size="9.6" letter-spacing="0.35" text-anchor="end" fill="#3450d2" stroke="#3450d2" font-family="Liberation Sans, sans-serif">ms</text>
<text transform="translate(580.40,85.90) scale(0.95,1.03)" font-size="9.6" text-anchor="end" fill="#3450d2" stroke="#3450d2" font-family="Liberation Sans, sans-serif">900</text>
<text transform="translate(561.50,85.90) scale(0.85,1)" font-size="9.6" text-anchor="end" fill="#3450d2" stroke="#3450d2" font-family="Liberation Sans, sans-serif">=</text>
<text x="553.15" y="85.90" font-size="9.8" font-style="italic" text-anchor="end" fill="#3450d2" stroke="#3450d2" font-family="Liberation Serif, serif">τ</text>
<path d="M389.00,111.50 C389.67,111.42 391.50,111.28 393.00,111.00 C394.50,110.72 396.53,110.60 398.00,109.80 C399.47,109.00 400.63,107.37 401.80,106.20 C402.97,105.03 404.00,103.55 405.00,102.80 C406.00,102.05 406.92,101.85 407.80,101.70 C408.68,101.55 409.43,101.38 410.30,101.90 C411.17,102.42 412.12,103.48 413.00,104.80 C413.88,106.12 414.77,108.43 415.60,109.80 C416.43,111.17 417.10,112.17 418.00,113.00 C418.90,113.83 419.67,114.38 421.00,114.80 C422.33,115.22 424.00,115.30 426.00,115.50 C428.00,115.70 429.50,115.78 433.00,116.00 C436.50,116.22 441.17,116.63 447.00,116.80 C452.83,116.97 462.50,117.12 468.00,117.00 C473.50,116.88 477.00,116.47 480.00,116.10 C483.00,115.73 484.17,115.22 486.00,114.80 C487.83,114.38 488.83,114.17 491.00,113.60 C493.17,113.03 496.75,112.58 499.00,111.40 C501.25,110.22 502.92,108.58 504.50,106.50 C506.08,104.42 507.33,101.75 508.50,98.90 C509.67,96.05 510.58,92.25 511.50,89.40 C512.42,86.55 513.25,83.67 514.00,81.80 C514.75,79.93 515.30,78.10 516.00,78.20 C516.70,78.30 517.58,80.87 518.20,82.40 C518.82,83.93 519.15,85.32 519.70,87.40 C520.25,89.48 520.82,92.57 521.50,94.90 C522.18,97.23 522.97,99.40 523.80,101.40 C524.63,103.40 525.63,105.40 526.50,106.90 C527.37,108.40 528.00,109.32 529.00,110.40 C530.00,111.48 531.00,112.48 532.50,113.40 C534.00,114.32 535.92,115.28 538.00,115.90 C540.08,116.52 542.67,116.75 545.00,117.10 C547.33,117.45 547.83,117.68 552.00,118.00 C556.17,118.32 561.53,118.77 570.00,119.00 C578.47,119.23 597.33,119.33 602.80,119.40" stroke="#1e3fc0" stroke-width="1.8" fill="none" stroke-linejoin="round"/>
<text x="596.4" y="112.60" font-size="9.6" letter-spacing="0.35" text-anchor="end" fill="#3450d2" stroke="#3450d2" font-family="Liberation Sans, sans-serif">ms</text>
<text transform="translate(580.40,112.60) scale(0.95,1.03)" font-size="9.6" text-anchor="end" fill="#3450d2" stroke="#3450d2" font-family="Liberation Sans, sans-serif">800</text>
<text transform="translate(561.50,112.60) scale(0.85,1)" font-size="9.6" text-anchor="end" fill="#3450d2" stroke="#3450d2" font-family="Liberation Sans, sans-serif">=</text>
<text x="553.15" y="112.60" font-size="9.8" font-style="italic" text-anchor="end" fill="#3450d2" stroke="#3450d2" font-family="Liberation Serif, serif">τ</text>
<path d="M389.00,138.70 C389.67,138.62 391.50,138.48 393.00,138.20 C394.50,137.92 396.53,137.80 398.00,137.00 C399.47,136.20 400.63,134.57 401.80,133.40 C402.97,132.23 404.00,130.75 405.00,130.00 C406.00,129.25 406.92,129.05 407.80,128.90 C408.68,128.75 409.43,128.58 410.30,129.10 C411.17,129.62 412.12,130.68 413.00,132.00 C413.88,133.32 414.77,135.63 415.60,137.00 C416.43,138.37 417.10,139.37 418.00,140.20 C418.90,141.03 419.67,141.58 421.00,142.00 C422.33,142.42 424.00,142.50 426.00,142.70 C428.00,142.90 429.50,142.98 433.00,143.20 C436.50,143.42 441.17,143.83 447.00,144.00 C452.83,144.17 462.50,144.32 468.00,144.20 C473.50,144.08 477.00,143.67 480.00,143.30 C483.00,142.93 484.17,142.42 486.00,142.00 C487.83,141.58 488.83,141.37 491.00,140.80 C493.17,140.23 496.75,139.78 499.00,138.60 C501.25,137.42 502.92,135.78 504.50,133.70 C506.08,131.62 507.33,128.95 508.50,126.10 C509.67,123.25 510.58,119.45 511.50,116.60 C512.42,113.75 513.25,110.87 514.00,109.00 C514.75,107.13 515.30,105.30 516.00,105.40 C516.70,105.50 517.58,108.07 518.20,109.60 C518.82,111.13 519.15,112.52 519.70,114.60 C520.25,116.68 520.82,119.77 521.50,122.10 C522.18,124.43 522.97,126.60 523.80,128.60 C524.63,130.60 525.63,132.60 526.50,134.10 C527.37,135.60 528.00,136.52 529.00,137.60 C530.00,138.68 531.00,139.68 532.50,140.60 C534.00,141.52 535.92,142.48 538.00,143.10 C540.08,143.72 542.67,143.95 545.00,144.30 C547.33,144.65 547.83,144.88 552.00,145.20 C556.17,145.52 561.53,145.97 570.00,146.20 C578.47,146.43 597.33,146.53 602.80,146.60" stroke="#1e3fc0" stroke-width="1.8" fill="none" stroke-linejoin="round"/>
<text x="596.4" y="140.50" font-size="9.6" letter-spacing="0.35" text-anchor="end" fill="#3450d2" stroke="#3450d2" font-family="Liberation Sans, sans-serif">ms</text>
<text transform="translate(580.40,140.50) scale(0.95,1.03)" font-size="9.6" text-anchor="end" fill="#3450d2" stroke="#3450d2" font-family="Liberation Sans, sans-serif">700</text>
<text transform="translate(561.50,140.50) scale(0.85,1)" font-size="9.6" text-anchor="end" fill="#3450d2" stroke="#3450d2" font-family="Liberation Sans, sans-serif">=</text>
<text x="553.15" y="140.50" font-size="9.8" font-style="italic" text-anchor="end" fill="#3450d2" stroke="#3450d2" font-family="Liberation Serif, serif">τ</text>
<path d="M389.00,165.70 C389.67,165.62 391.50,165.48 393.00,165.20 C394.50,164.92 396.53,164.80 398.00,164.00 C399.47,163.20 400.63,161.57 401.80,160.40 C402.97,159.23 404.00,157.75 405.00,157.00 C406.00,156.25 406.92,156.05 407.80,155.90 C408.68,155.75 409.43,155.58 410.30,156.10 C411.17,156.62 412.12,157.68 413.00,159.00 C413.88,160.32 414.77,162.63 415.60,164.00 C416.43,165.37 417.10,166.37 418.00,167.20 C418.90,168.03 419.67,168.58 421.00,169.00 C422.33,169.42 424.00,169.50 426.00,169.70 C428.00,169.90 429.50,169.98 433.00,170.20 C436.50,170.42 441.17,170.83 447.00,171.00 C452.83,171.17 462.50,171.32 468.00,171.20 C473.50,171.08 477.00,170.67 480.00,170.30 C483.00,169.93 484.17,169.42 486.00,169.00 C487.83,168.58 488.83,168.37 491.00,167.80 C493.17,167.23 496.75,166.78 499.00,165.60 C501.25,164.42 502.92,162.78 504.50,160.70 C506.08,158.62 507.33,155.95 508.50,153.10 C509.67,150.25 510.58,146.45 511.50,143.60 C512.42,140.75 513.25,137.87 514.00,136.00 C514.75,134.13 515.30,132.30 516.00,132.40 C516.70,132.50 517.58,135.07 518.20,136.60 C518.82,138.13 519.15,139.52 519.70,141.60 C520.25,143.68 520.82,146.77 521.50,149.10 C522.18,151.43 522.97,153.60 523.80,155.60 C524.63,157.60 525.63,159.60 526.50,161.10 C527.37,162.60 528.00,163.52 529.00,164.60 C530.00,165.68 531.00,166.68 532.50,167.60 C534.00,168.52 535.92,169.48 538.00,170.10 C540.08,170.72 542.67,170.95 545.00,171.30 C547.33,171.65 547.83,171.88 552.00,172.20 C556.17,172.52 561.53,172.97 570.00,173.20 C578.47,173.43 597.33,173.53 602.80,173.60" stroke="#1e3fc0" stroke-width="1.8" fill="none" stroke-linejoin="round"/>
<text x="596.4" y="167.20" font-size="9.6" letter-spacing="0.35" text-anchor="end" fill="#3450d2" stroke="#3450d2" font-family="Liberation Sans, sans-serif">ms</text>
<text transform="translate(580.40,167.20) scale(0.95,1.03)" font-size="9.6" text-anchor="end" fill="#3450d2" stroke="#3450d2" font-family="Liberation Sans, sans-serif">600</text>
<text transform="translate(561.50,167.20) scale(0.85,1)" font-size="9.6" text-anchor="end" fill="#3450d2" stroke="#3450d2" font-family="Liberation Sans, sans-serif">=</text>
<text x="553.15" y="167.20" font-size="9.8" font-style="italic" text-anchor="end" fill="#3450d2" stroke="#3450d2" font-family="Liberation Serif, serif">τ</text>
<path d="M389.00,192.10 C389.67,192.02 391.50,191.88 393.00,191.60 C394.50,191.32 396.53,191.20 398.00,190.40 C399.47,189.60 400.63,187.97 401.80,186.80 C402.97,185.63 404.00,184.15 405.00,183.40 C406.00,182.65 406.92,182.45 407.80,182.30 C408.68,182.15 409.43,181.98 410.30,182.50 C411.17,183.02 412.12,184.08 413.00,185.40 C413.88,186.72 414.77,189.03 415.60,190.40 C416.43,191.77 417.10,192.77 418.00,193.60 C418.90,194.43 419.67,194.98 421.00,195.40 C422.33,195.82 424.00,195.90 426.00,196.10 C428.00,196.30 429.50,196.38 433.00,196.60 C436.50,196.82 441.17,197.23 447.00,197.40 C452.83,197.57 462.50,197.72 468.00,197.60 C473.50,197.48 477.00,197.07 480.00,196.70 C483.00,196.33 484.17,195.82 486.00,195.40 C487.83,194.98 488.83,194.77 491.00,194.20 C493.17,193.63 496.75,193.18 499.00,192.00 C501.25,190.82 502.92,189.18 504.50,187.10 C506.08,185.02 507.33,182.35 508.50,179.50 C509.67,176.65 510.58,172.85 511.50,170.00 C512.42,167.15 513.25,164.27 514.00,162.40 C514.75,160.53 515.30,158.70 516.00,158.80 C516.70,158.90 517.58,161.47 518.20,163.00 C518.82,164.53 519.15,165.92 519.70,168.00 C520.25,170.08 520.82,173.17 521.50,175.50 C522.18,177.83 522.97,180.00 523.80,182.00 C524.63,184.00 525.63,186.00 526.50,187.50 C527.37,189.00 528.00,189.92 529.00,191.00 C530.00,192.08 531.00,193.08 532.50,194.00 C534.00,194.92 535.92,195.88 538.00,196.50 C540.08,197.12 542.67,197.35 545.00,197.70 C547.33,198.05 547.83,198.28 552.00,198.60 C556.17,198.92 561.53,199.37 570.00,199.60 C578.47,199.83 597.33,199.93 602.80,200.00" stroke="#1e3fc0" stroke-width="1.8" fill="none" stroke-linejoin="round"/>
<text x="596.4" y="193.90" font-size="9.6" letter-spacing="0.35" text-anchor="end" fill="#3450d2" stroke="#3450d2" font-family="Liberation Sans, sans-serif">ms</text>
<text transform="translate(580.40,193.90) scale(0.95,1.03)" font-size="9.6" text-anchor="end" fill="#3450d2" stroke="#3450d2" font-family="Liberation Sans, sans-serif">500</text>
<text transform="translate(561.50,193.90) scale(0.85,1)" font-size="9.6" text-anchor="end" fill="#3450d2" stroke="#3450d2" font-family="Liberation Sans, sans-serif">=</text>
<text x="553.15" y="193.90" font-size="9.8" font-style="italic" text-anchor="end" fill="#3450d2" stroke="#3450d2" font-family="Liberation Serif, serif">τ</text>
<path d="M389.00,219.20 C389.67,219.12 391.50,218.98 393.00,218.70 C394.50,218.42 396.53,218.30 398.00,217.50 C399.47,216.70 400.63,215.07 401.80,213.90 C402.97,212.73 404.00,211.25 405.00,210.50 C406.00,209.75 406.92,209.55 407.80,209.40 C408.68,209.25 409.43,209.08 410.30,209.60 C411.17,210.12 412.12,211.18 413.00,212.50 C413.88,213.82 414.77,216.13 415.60,217.50 C416.43,218.87 417.10,219.87 418.00,220.70 C418.90,221.53 419.67,222.08 421.00,222.50 C422.33,222.92 424.00,223.00 426.00,223.20 C428.00,223.40 429.50,223.48 433.00,223.70 C436.50,223.92 441.17,224.33 447.00,224.50 C452.83,224.67 462.50,224.82 468.00,224.70 C473.50,224.58 477.00,224.17 480.00,223.80 C483.00,223.43 484.17,222.92 486.00,222.50 C487.83,222.08 488.83,221.87 491.00,221.30 C493.17,220.73 496.75,220.28 499.00,219.10 C501.25,217.92 502.92,216.28 504.50,214.20 C506.08,212.12 507.33,209.45 508.50,206.60 C509.67,203.75 510.58,199.95 511.50,197.10 C512.42,194.25 513.25,191.37 514.00,189.50 C514.75,187.63 515.30,185.80 516.00,185.90 C516.70,186.00 517.58,188.57 518.20,190.10 C518.82,191.63 519.15,193.02 519.70,195.10 C520.25,197.18 520.82,200.27 521.50,202.60 C522.18,204.93 522.97,207.10 523.80,209.10 C524.63,211.10 525.63,213.10 526.50,214.60 C527.37,216.10 528.00,217.02 529.00,218.10 C530.00,219.18 531.00,220.18 532.50,221.10 C534.00,222.02 535.92,222.98 538.00,223.60 C540.08,224.22 542.67,224.45 545.00,224.80 C547.33,225.15 547.83,225.38 552.00,225.70 C556.17,226.02 561.53,226.47 570.00,226.70 C578.47,226.93 597.33,227.03 602.80,227.10" stroke="#1e3fc0" stroke-width="1.8" fill="none" stroke-linejoin="round"/>
<text x="596.4" y="220.80" font-size="9.6" letter-spacing="0.35" text-anchor="end" fill="#3450d2" stroke="#3450d2" font-family="Liberation Sans, sans-serif">ms</text>
<text transform="translate(580.40,220.80) scale(0.95,1.03)" font-size="9.6" text-anchor="end" fill="#3450d2" stroke="#3450d2" font-family="Liberation Sans, sans-serif">400</text>
<text transform="translate(561.50,220.80) scale(0.85,1)" font-size="9.6" text-anchor="end" fill="#3450d2" stroke="#3450d2" font-family="Liberation Sans, sans-serif">=</text>
<text x="553.15" y="220.80" font-size="9.8" font-style="italic" text-anchor="end" fill="#3450d2" stroke="#3450d2" font-family="Liberation Serif, serif">τ</text>
<path d="M389.00,244.00 C389.67,243.92 391.50,243.78 393.00,243.50 C394.50,243.22 396.53,243.10 398.00,242.30 C399.47,241.50 400.63,239.87 401.80,238.70 C402.97,237.53 404.00,236.05 405.00,235.30 C406.00,234.55 406.92,234.35 407.80,234.20 C408.68,234.05 409.43,233.88 410.30,234.40 C411.17,234.92 412.12,235.98 413.00,237.30 C413.88,238.62 414.77,240.93 415.60,242.30 C416.43,243.67 417.10,244.67 418.00,245.50 C418.90,246.33 419.67,246.88 421.00,247.30 C422.33,247.72 424.00,247.80 426.00,248.00 C428.00,248.20 429.50,248.28 433.00,248.50 C436.50,248.72 441.17,249.13 447.00,249.30 C452.83,249.47 462.50,249.62 468.00,249.50 C473.50,249.38 477.00,248.97 480.00,248.60 C483.00,248.23 484.17,247.72 486.00,247.30 C487.83,246.88 488.83,246.67 491.00,246.10 C493.17,245.53 496.75,245.08 499.00,243.90 C501.25,242.72 502.92,241.08 504.50,239.00 C506.08,236.92 507.33,234.25 508.50,231.40 C509.67,228.55 510.58,224.75 511.50,221.90 C512.42,219.05 513.25,216.17 514.00,214.30 C514.75,212.43 515.30,210.60 516.00,210.70 C516.70,210.80 517.58,213.37 518.20,214.90 C518.82,216.43 519.15,217.82 519.70,219.90 C520.25,221.98 520.82,225.07 521.50,227.40 C522.18,229.73 522.97,231.90 523.80,233.90 C524.63,235.90 525.63,237.90 526.50,239.40 C527.37,240.90 528.00,241.82 529.00,242.90 C530.00,243.98 531.00,244.98 532.50,245.90 C534.00,246.82 535.92,247.78 538.00,248.40 C540.08,249.02 542.67,249.25 545.00,249.60 C547.33,249.95 547.83,250.18 552.00,250.50 C556.17,250.82 561.53,251.27 570.00,251.50 C578.47,251.73 597.33,251.83 602.80,251.90" stroke="#1e3fc0" stroke-width="1.8" fill="none" stroke-linejoin="round"/>
<text x="596.4" y="246.00" font-size="9.6" letter-spacing="0.35" text-anchor="end" fill="#3450d2" stroke="#3450d2" font-family="Liberation Sans, sans-serif">ms</text>
<text transform="translate(580.40,246.00) scale(0.95,1.03)" font-size="9.6" text-anchor="end" fill="#3450d2" stroke="#3450d2" font-family="Liberation Sans, sans-serif">300</text>
<text transform="translate(561.50,246.00) scale(0.85,1)" font-size="9.6" text-anchor="end" fill="#3450d2" stroke="#3450d2" font-family="Liberation Sans, sans-serif">=</text>
<text x="553.15" y="246.00" font-size="9.8" font-style="italic" text-anchor="end" fill="#3450d2" stroke="#3450d2" font-family="Liberation Serif, serif">τ</text>
<path d="M389.00,268.45 C389.67,268.37 391.50,268.23 393.00,267.95 C394.50,267.67 396.53,267.55 398.00,266.75 C399.47,265.95 400.63,264.32 401.80,263.15 C402.97,261.98 404.00,260.50 405.00,259.75 C406.00,259.00 406.92,258.80 407.80,258.65 C408.68,258.50 409.43,258.33 410.30,258.85 C411.17,259.37 412.12,260.43 413.00,261.75 C413.88,263.07 414.77,265.38 415.60,266.75 C416.43,268.12 417.10,269.12 418.00,269.95 C418.90,270.78 419.67,271.33 421.00,271.75 C422.33,272.17 424.00,272.25 426.00,272.45 C428.00,272.65 429.50,272.73 433.00,272.95 C436.50,273.17 441.17,273.58 447.00,273.75 C452.83,273.92 462.50,274.07 468.00,273.95 C473.50,273.83 477.00,273.42 480.00,273.05 C483.00,272.68 484.17,272.17 486.00,271.75 C487.83,271.33 488.83,271.12 491.00,270.55 C493.17,269.98 496.75,269.53 499.00,268.35 C501.25,267.17 502.92,265.53 504.50,263.45 C506.08,261.37 507.33,258.70 508.50,255.85 C509.67,253.00 510.58,249.20 511.50,246.35 C512.42,243.50 513.25,240.62 514.00,238.75 C514.75,236.88 515.30,235.05 516.00,235.15 C516.70,235.25 517.58,237.82 518.20,239.35 C518.82,240.88 519.15,242.27 519.70,244.35 C520.25,246.43 520.82,249.52 521.50,251.85 C522.18,254.18 522.97,256.35 523.80,258.35 C524.63,260.35 525.63,262.35 526.50,263.85 C527.37,265.35 528.00,266.27 529.00,267.35 C530.00,268.43 531.00,269.43 532.50,270.35 C534.00,271.27 535.92,272.23 538.00,272.85 C540.08,273.47 542.67,273.70 545.00,274.05 C547.33,274.40 547.83,274.63 552.00,274.95 C556.17,275.27 561.53,275.72 570.00,275.95 C578.47,276.18 597.33,276.28 602.80,276.35" stroke="#1e3fc0" stroke-width="1.8" fill="none" stroke-linejoin="round"/>
<text x="596.4" y="270.30" font-size="9.6" letter-spacing="0.35" text-anchor="end" fill="#3450d2" stroke="#3450d2" font-family="Liberation Sans, sans-serif">ms</text>
<text transform="translate(580.40,270.30) scale(0.95,1.03)" font-size="9.6" text-anchor="end" fill="#3450d2" stroke="#3450d2" font-family="Liberation Sans, sans-serif">200</text>
<text transform="translate(561.50,270.30) scale(0.85,1)" font-size="9.6" text-anchor="end" fill="#3450d2" stroke="#3450d2" font-family="Liberation Sans, sans-serif">=</text>
<text x="553.15" y="270.30" font-size="9.8" font-style="italic" text-anchor="end" fill="#3450d2" stroke="#3450d2" font-family="Liberation Serif, serif">τ</text>
<path d="M389.00,292.50 C389.67,292.42 391.50,292.28 393.00,292.00 C394.50,291.72 396.53,291.60 398.00,290.80 C399.47,290.00 400.63,288.37 401.80,287.20 C402.97,286.03 404.00,284.55 405.00,283.80 C406.00,283.05 406.92,282.85 407.80,282.70 C408.68,282.55 409.43,282.38 410.30,282.90 C411.17,283.42 412.12,284.48 413.00,285.80 C413.88,287.12 414.77,289.43 415.60,290.80 C416.43,292.17 417.10,293.17 418.00,294.00 C418.90,294.83 419.67,295.38 421.00,295.80 C422.33,296.22 424.00,296.30 426.00,296.50 C428.00,296.70 429.50,296.78 433.00,297.00 C436.50,297.22 441.17,297.63 447.00,297.80 C452.83,297.97 462.50,298.12 468.00,298.00 C473.50,297.88 477.00,297.47 480.00,297.10 C483.00,296.73 484.17,296.22 486.00,295.80 C487.83,295.38 488.83,295.17 491.00,294.60 C493.17,294.03 496.75,293.58 499.00,292.40 C501.25,291.22 502.92,289.58 504.50,287.50 C506.08,285.42 507.33,282.75 508.50,279.90 C509.67,277.05 510.58,273.25 511.50,270.40 C512.42,267.55 513.25,264.67 514.00,262.80 C514.75,260.93 515.30,259.10 516.00,259.20 C516.70,259.30 517.58,261.87 518.20,263.40 C518.82,264.93 519.15,266.32 519.70,268.40 C520.25,270.48 520.82,273.57 521.50,275.90 C522.18,278.23 522.97,280.40 523.80,282.40 C524.63,284.40 525.63,286.40 526.50,287.90 C527.37,289.40 528.00,290.32 529.00,291.40 C530.00,292.48 531.00,293.48 532.50,294.40 C534.00,295.32 535.92,296.28 538.00,296.90 C540.08,297.52 542.67,297.75 545.00,298.10 C547.33,298.45 547.83,298.68 552.00,299.00 C556.17,299.32 561.53,299.77 570.00,300.00 C578.47,300.23 597.33,300.33 602.80,300.40" stroke="#15162a" stroke-width="2.2" fill="none" stroke-linejoin="round"/>
<text x="596.4" y="294.90" font-size="9.6" letter-spacing="0.35" text-anchor="end" fill="#1a1a30" stroke="#1a1a30" font-family="Liberation Sans, sans-serif">ms</text>
<text transform="translate(580.40,294.90) scale(0.95,1.03)" font-size="9.6" text-anchor="end" fill="#1a1a30" stroke="#1a1a30" font-family="Liberation Sans, sans-serif">100</text>
<text transform="translate(562.14,294.90) scale(0.85,1)" font-size="9.6" text-anchor="end" fill="#1a1a30" stroke="#1a1a30" font-family="Liberation Sans, sans-serif">=</text>
<text x="553.79" y="294.90" font-size="9.8" font-style="italic" text-anchor="end" fill="#1a1a30" stroke="#1a1a30" font-family="Liberation Serif, serif">τ</text>
<text x="394.8" y="34.5" font-size="9.6" font-family="Liberation Sans, sans-serif"><tspan font-family="Liberation Serif, serif" font-style="italic" font-size="10.8">δ</tspan><tspan dx="0.2">(VO)</tspan><tspan font-size="6.5" dy="2.2">4</tspan><tspan font-size="6.5" dy="-5.0">3−</tspan></text>
<text x="466.5" y="43" font-size="9.2" font-family="Liberation Sans, sans-serif"><tspan font-style="italic">v</tspan><tspan font-size="6.2" dy="2.4" dx="0.4">as</tspan><tspan dy="-2.4">(V−O)</tspan></text>
<text x="521.6" y="22.6" font-size="9.2" font-family="Liberation Sans, sans-serif"><tspan font-style="italic">v</tspan><tspan font-size="6.2" dy="2.4" dx="0.3">s</tspan><tspan dy="-2.4">(V−O)</tspan></text></svg></body></html>
